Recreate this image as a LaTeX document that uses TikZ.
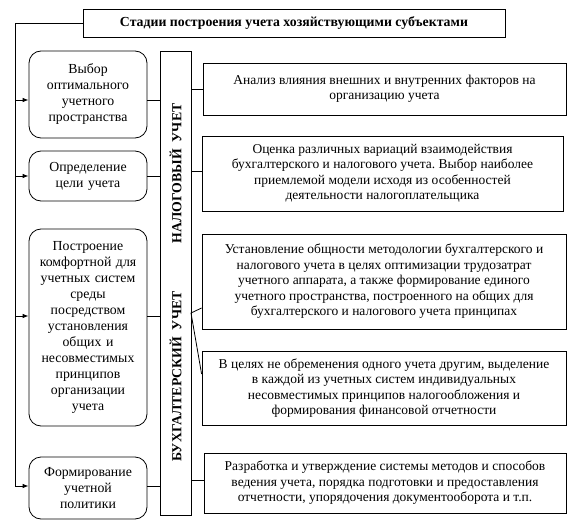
\documentclass[tikz,border=0pt]{standalone}
\usepackage{fontspec}
\setmainfont{Liberation Serif}
\usetikzlibrary{arrows.meta}
\frenchspacing
\begin{document}
\begin{tikzpicture}[x=1pt,y=-1pt,
  line width=0.8pt,
  every node/.style={inner sep=0pt,font=\fontsize{13.5}{15.5}\selectfont},
  plainbox/.style={draw,rectangle,align=center},
  roundbox/.style={draw,rectangle,rounded corners=12pt,align=center,
    minimum width=118pt,text width=114pt,font=\fontsize{13.8}{16}\selectfont},
  bandbox/.style={draw,rectangle,minimum width=31pt,minimum height=464pt},
  vlabel/.style={rotate=90,font=\bfseries\fontsize{13.8}{15}\selectfont},
  arr/.style={-{Latex[length=6pt,width=4.5pt]}},
  conn/.style={-}
]
\useasboundingbox (0,0) rectangle (578,524);

\node[plainbox,minimum width=422pt,minimum height=28pt,font=\bfseries\fontsize{13.8}{15}\selectfont]
  (title) at (294,23) {Стадии построения учета хозяйствующими субъектами};

\node[roundbox,minimum height=87pt] (b1) at (88,94.5)
  {Выбор\\оптимального\\учетного\\пространства};
\node[roundbox,minimum height=50pt] (b2) at (88,176)
  {Определение\\цели учета};
\node[roundbox,minimum height=197pt] (b3) at (88,327.5)
  {Построение\\комфортной для\\учетных систем\\среды\\посредством\\установления\\общих и\\несовместимых\\принципов\\организации\\учета};
\node[roundbox,minimum height=62pt] (b4) at (88,488)
  {Формирование\\учетной\\политики};

\node[bandbox] (band) at (175.5,283) {};
\node[vlabel] (nal) at (175.5,173.5) {НАЛОГОВЫЙ\ \ УЧЕТ};
\node[vlabel] (buh) at (175.5,376.5) {БУХГАЛТЕРСКИЙ\ \ УЧЕТ};

\node[plainbox,minimum width=363pt,minimum height=52pt] (r1) at (384.5,89)
  {Анализ влияния внешних и внутренних факторов на\\организацию учета};
\node[plainbox,minimum width=361pt,minimum height=75pt] (r2) at (382.5,173.5)
  {Оценка различных вариаций взаимодействия\\бухгалтерского и налогового учета. Выбор наиболее\\приемлемой модели исходя из особенностей\\деятельности налогоплательщика};
\node[plainbox,minimum width=364pt,minimum height=95pt] (r3) at (384,281.5)
  {Установление общности методологии бухгалтерского и\\налогового учета в целях оптимизации трудозатрат\\учетного аппарата, а также формирование единого\\учетного пространства, построенного на общих для\\бухгалтерского и налогового учета принципах};
\node[plainbox,minimum width=364pt,minimum height=74pt] (r4) at (384,388)
  {В целях не обременения одного учета другим, выделение\\в каждой из учетных систем индивидуальных\\несовместимых принципов налогообложения и\\формирования финансовой отчетности};
\node[plainbox,minimum width=362pt,minimum height=60pt] (r5) at (385,483)
  {Разработка и утверждение системы методов и способов\\ведения учета, порядка подготовки и предоставления\\отчетности, упорядочения документооборота и т.п.};

% left bus with arrows
\coordinate (bus) at (15,486);
\draw[conn] (title.west) -| (bus);
\draw[arr] ([yshift=-5.5pt]b1.west -| bus) -- ([yshift=-5.5pt]b1.west);
\draw[arr] (b2.west -| bus) -- (b2.west);
\draw[arr] ([yshift=11.5pt]b3.west -| bus) -- ([yshift=11.5pt]b3.west);
\draw[arr] (bus) -- (bus -| b4.west);

% left boxes to band
\draw[conn] ([yshift=-5.5pt]b1.east) -- ([yshift=-5.5pt]b1.east -| band.west);
\draw[conn] (b2.east) -- (b2.east -| band.west);
\draw[conn] ([yshift=11.5pt]b3.east) -- ([yshift=11.5pt]b3.east -| band.west);
\draw[conn] (bus -| b4.east) -- (bus -| band.west);

% band to right boxes
\draw[conn] (r1.west -| band.east) -- (r1.west);
\draw[conn] ([yshift=2.5pt]r2.west -| band.east) -- ([yshift=2.5pt]r2.west);
\coordinate (fan) at (191,313);
\draw[conn] ([yshift=-26.5pt]r3.west) -- (fan) -- ([yshift=14pt]r4.west);
\draw[conn] ([yshift=3pt]r5.west -| band.east) -- ([yshift=3pt]r5.west);
\end{tikzpicture}
\end{document}
